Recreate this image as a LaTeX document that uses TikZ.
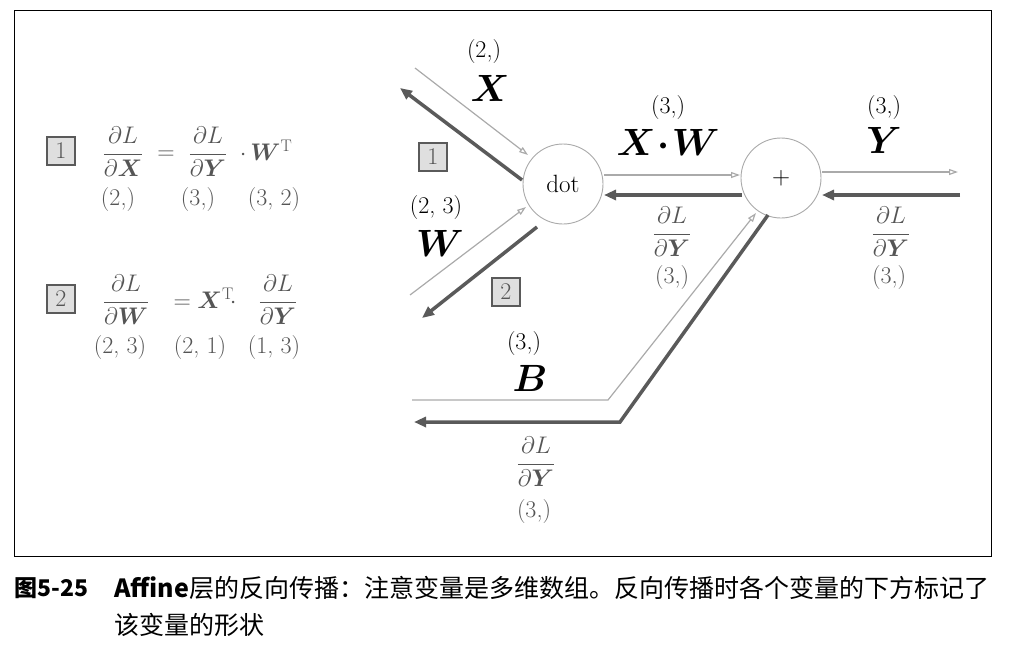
\documentclass[tikz,border=0pt]{standalone}
\usepackage{fix-cm}
\usepackage{amsmath,bm}
\usepackage{fontspec}
\newfontfamily\cjk{Noto Sans CJK SC}
\usetikzlibrary{arrows.meta}
\definecolor{fw}{HTML}{AAAAAA}
\definecolor{bw}{HTML}{5A5A5A}
\definecolor{gt}{HTML}{555555}
\tikzset{
 fwd/.style={draw=fw,line width=1.2pt,-{Triangle[open,length=9pt,width=6pt]}},
 bwd/.style={draw=bw,line width=3.5pt,-{Triangle[length=12pt,width=10pt]}},
 opnode/.style={circle,draw=fw,line width=0.9pt,minimum size=80pt,fill=white,font=\fontsize{25}{28}\selectfont},
 lbl/.style={font=\fontsize{24}{28}\selectfont},
 glbl/.style={font=\fontsize{24}{28}\selectfont,text=gt},
 big/.style={font=\fontsize{38}{40}\selectfont},
 numbox/.style={draw=bw,line width=1.8pt,fill=gray!25,minimum size=28pt,inner sep=0pt,text=gt,font=\fontsize{24}{26}\selectfont}
}
\begin{document}
\begin{tikzpicture}[x=1pt,y=-1pt]
\useasboundingbox (0,0) rectangle (1017,651);
\draw[line width=0.8pt] (14,10) rectangle (991,556);
\node[opnode] (dot) at (563,184) {dot};
\node[opnode] (plus) at (781,178) {$+$};
\coordinate (xin) at (415,68); \coordinate (xout) at (400,88);
\coordinate (win) at (410,295); \coordinate (wout) at (422,318);
\coordinate (yout) at (958,172); \coordinate (yin) at (960,195);
\coordinate (bin) at (412,400); \coordinate (bc1) at (608,400);
\coordinate (bout) at (414,422); \coordinate (bc2) at (620,422);
\draw[fwd] (xin) -- (528,155);
\draw[fwd] (win) -- (526,207);
\draw[fwd] (604,175) -- (740,175);
\draw[fwd] (822,172) -- (yout);
\draw[fwd] (bin) -- (bc1) -- (756,213);
\draw[bwd] (522,180) -- (xout);
\draw[bwd] (537,227) -- (wout);
\draw[bwd] (742,195) -- (604,195);
\draw[bwd] (yin) -- (822,195);
\draw[bwd,line join=miter] (768,215) -- (bc2) -- (bout);
\node[lbl] (xs) at (484,52) {(2,)};
\node[big] (xl) at (490,88) {$\bm{X}$};
\node[lbl] (ws) at (436,208) {(2, 3)};
\node[big] (wl) at (440,243) {$\bm{W}$};
\node[lbl] (xws) at (668,108) {(3,)};
\node[big] (xwl) at (668,142) {$\bm{X}\!\bm{\cdot}\!\bm{W}$};
\node[lbl] (ys) at (884,108) {(3,)};
\node[big] (yl) at (884,140) {$\bm{Y}$};
\node[lbl] (bs) at (524,344) {(3,)};
\node[big] (bl) at (530,378) {$\bm{B}$};
\node[glbl] (g1) at (672,232) {$\dfrac{\partial L}{\partial \bm{Y}}$};
\node[glbl] (g1s) at (672,278) {(3,)};
\node[glbl] (g2) at (891,232) {$\dfrac{\partial L}{\partial \bm{Y}}$};
\node[glbl] (g2s) at (889,278) {(3,)};
\node[glbl] (g3) at (536,462) {$\dfrac{\partial L}{\partial \bm{Y}}$};
\node[glbl] (g3s) at (534,512) {(3,)};
\node[numbox] (b1) at (433,157) {1};
\node[numbox] (b2) at (506,292) {2};
\node[numbox] (l1) at (61,151) {1};
\node[numbox] (l2) at (61,299) {2};
\node[glbl] (e1a) at (123,152) {$\dfrac{\partial L}{\partial \bm{X}}$};
\node[glbl] (e1b) at (166,155) {$=$};
\node[glbl] (e1c) at (208,152) {$\dfrac{\partial L}{\partial \bm{Y}}$};
\node[glbl] (e1d) at (266,150) {$\cdot\,\bm{W}^{\mathrm{T}}$};
\node[glbl] (e1s1) at (118,200) {(2,)};
\node[glbl] (e1s2) at (198,200) {(3,)};
\node[glbl] (e1s3) at (274,200) {(3, 2)};
\node[glbl] (e2a) at (126,300) {$\dfrac{\partial L}{\partial \bm{W}}$};
\node[glbl] (e2b) at (205,298) {$=\bm{X}^{\mathrm{T}}\!\cdot$};
\node[glbl] (e2c) at (278,300) {$\dfrac{\partial L}{\partial \bm{Y}}$};
\node[glbl] (e2s1) at (120,348) {(2, 3)};
\node[glbl] (e2s2) at (200,348) {(2, 1)};
\node[glbl] (e2s3) at (274,348) {(1, 3)};
\node[anchor=west,inner sep=0pt,font=\cjk\fontsize{23}{26}\selectfont\bfseries] (cap1) at (14,588) {图5-25};
\node[anchor=west,inner sep=0pt,font=\cjk\fontsize{25}{28}\selectfont] (cap2) at (114,588) {\textbf{Affine}层的反向传播：注意变量是多维数组。反向传播时各个变量的下方标记了};
\node[anchor=west,inner sep=0pt,font=\cjk\fontsize{25}{28}\selectfont] (cap3) at (114,625) {该变量的形状};
\end{tikzpicture}
\end{document}
